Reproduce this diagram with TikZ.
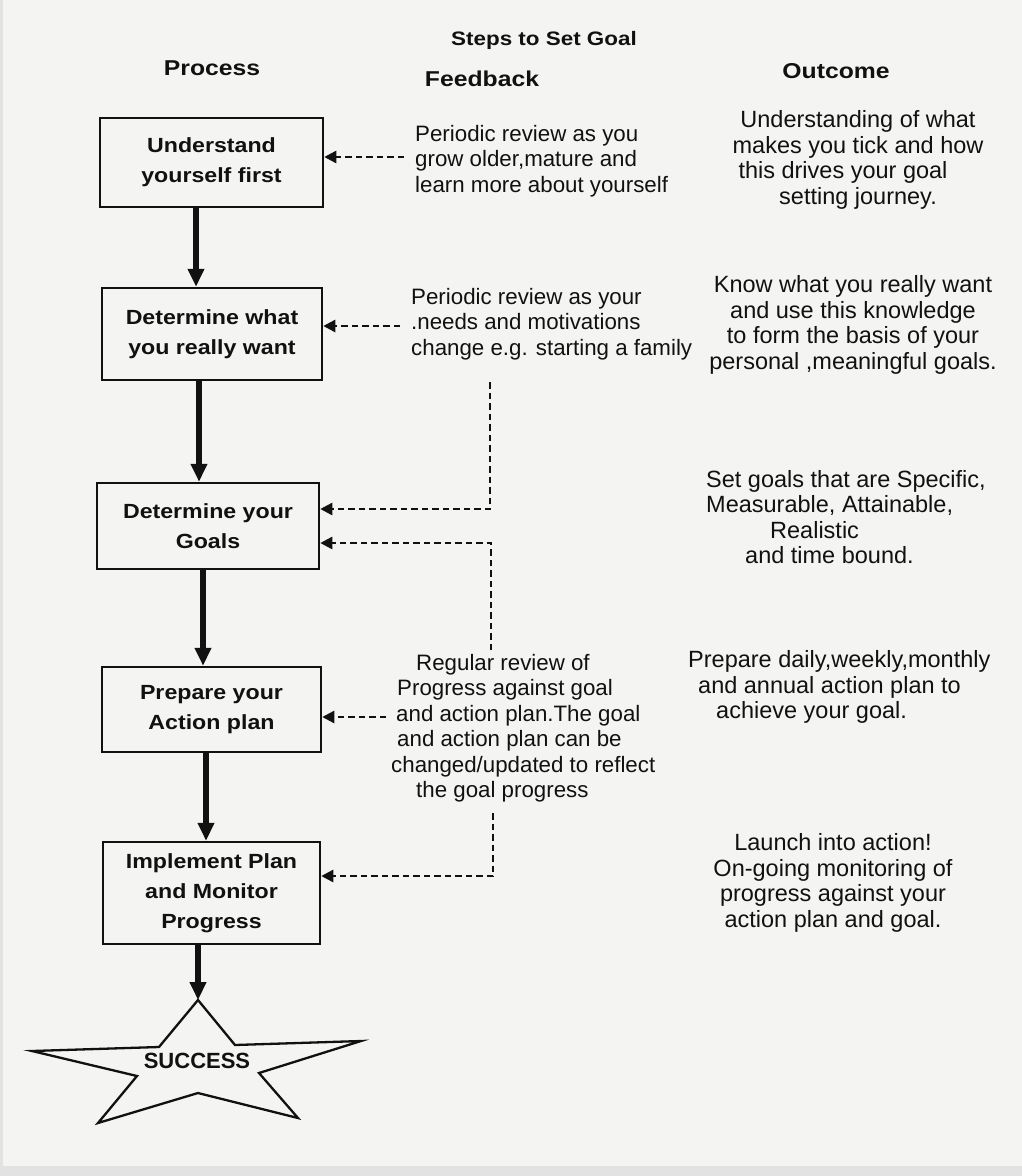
\documentclass[tikz,border=0pt]{standalone}
\usepackage{fontspec}
\setmainfont{Liberation Sans}
\newfontfamily\wideb[FakeStretch=1.13]{Liberation Sans}
\newfontfamily\wideh[FakeStretch=1.15]{Liberation Sans}
\usetikzlibrary{arrows.meta}
\definecolor{paper}{HTML}{F4F4F2}
\definecolor{strip}{HTML}{E2E2E2}
\definecolor{ink}{HTML}{111111}
\begin{document}
\begin{tikzpicture}[x=1pt,y=-1pt,
  hdr/.style={inner sep=0pt, text=ink, font=\wideh\bfseries\fontsize{21.5}{26}\selectfont},
  box/.style={draw=ink, line width=2.5pt, align=center, inner sep=0pt, text=ink,
    font=\wideb\bfseries\fontsize{20.5}{30}\selectfont},
  fbtext/.style={inner sep=0pt, align=left, text=ink, font=\fontsize{22.3}{25.5}\selectfont},
  outtext/.style={inner sep=0pt, text=ink, font=\fontsize{23.5}{25.5}\selectfont},
  flow/.style={draw=ink, line width=5.5pt, -{Triangle[length=18pt,width=16pt]}},
  fb/.style={draw=ink, line width=2.5pt, dash pattern=on 6.5pt off 4pt, -{Triangle[length=12pt,width=12pt]}},
  starline/.style={draw=ink, line width=2.3pt, line join=miter},
]
\useasboundingbox (0,0) rectangle (1022,1176);
\fill[paper] (0,0) rectangle (1022,1176);
\fill[strip] (0,1166) rectangle (1022,1176);
\fill[strip] (0,0) rectangle (3,1166);

% headers
\node[hdr, font=\wideh\bfseries\fontsize{19.5}{24}\selectfont] (title) at (544,40) {Steps to Set Goal};
\node[hdr] (hproc) at (212,68) {Process};
\node[hdr] (hfb) at (482,79) {Feedback};
\node[hdr] (hout) at (836,71) {Outcome};

% process boxes
\node[box, minimum width=223pt, minimum height=89pt] (b1) at (211.5,162.5) {Understand\\yourself first};
\node[box, minimum width=220pt, minimum height=92pt] (b2) at (212,334) {Determine what\\you really want};
\node[box, minimum width=222pt, minimum height=86pt] (b3) at (208,526) {Determine your\\Goals};
\node[box, minimum width=219pt, minimum height=85pt] (b4) at (211.5,709.5) {Prepare your\\Action plan};
\node[box, minimum width=217pt, minimum height=102pt] (b5) at (211.5,893) {Implement Plan\\and Monitor\\Progress};

% star
\coordinate (startop) at (198,1000);
\draw[starline] (startop) -- (235,1045) -- (361,1041) -- (259,1073) -- (298,1118)
  -- (198,1093) -- (98,1123) -- (137,1076) -- (32,1051) -- (159,1047) -- cycle;
\node[inner sep=0pt, text=ink, font=\bfseries\fontsize{22}{26}\selectfont] (succ) at (197,1061) {SUCCESS};

% flow arrows
\coordinate (a1) at ([xshift=-15.5pt]b1.south);
\coordinate (a2) at ([xshift=-13pt]b2.south);
\coordinate (a3) at ([xshift=-5pt]b3.south);
\coordinate (a4) at ([xshift=-5.5pt]b4.south);
\coordinate (a5) at ([xshift=-13.5pt]b5.south);
\draw[flow] (a1) -- (a1 |- b2.north);
\draw[flow] (a2) -- (a2 |- b3.north);
\draw[flow] (a3) -- (a3 |- b4.north);
\draw[flow] (a4) -- (a4 |- b5.north);
\draw[flow] (a5) -- (startop);

% feedback texts
\node[fbtext, anchor=west] (f1) at (415,161) {Periodic review as you\\grow older,mature and\\learn more about yourself};
\node[fbtext, anchor=west] (f2) at (411,324) {Periodic review as your\\.needs and motivations\\change e.g. starting a family};
\node[fbtext, anchor=west] (f4) at (391,728) {\hspace*{25pt}Regular review of\\\hspace*{6pt}Progress against goal\\\hspace*{5pt}and action plan.The goal\\\hspace*{6pt}and action plan can be\\changed/updated to reflect\\\hspace*{25pt}the goal progress};

% feedback arrows
\coordinate (t1) at ([shift={(-11pt,4pt)}]f1.west);
\draw[fb] (t1) -- (t1 -| b1.east);
\coordinate (t2) at ([shift={(-11pt,-2pt)}]f2.west);
\draw[fb] (t2) -- (t2 -| b2.east);
\coordinate (c3) at (490,382);
\draw[fb] (c3) |- ([yshift=17pt]b3.east);
\coordinate (c4) at (491,650);
\draw[fb] (c4) |- ([yshift=-17pt]b3.east);
\coordinate (t4) at ([shift={(-5pt,11pt)}]f4.west);
\draw[fb] (t4) -- (t4 -| b4.east);
\coordinate (c5) at (493,813);
\draw[fb] (c5) |- ([yshift=17pt]b5.east);

% outcome texts
\node[outtext, align=center] (o1) at (858,160) {Understanding of what\\makes you tick and how\\this drives your goal\hspace*{30pt}\mbox{}\\setting journey.};
\node[outtext, align=center] (o2) at (853,325) {Know what you really want\\and use this knowledge\\to form the basis of your\\personal ,meaningful goals.};
\node[outtext, align=left, anchor=west] (o3) at (706,517) {Set goals that are Specific,\\Measurable, Attainable,\\\hspace*{64pt}Realistic\\\hspace*{39pt}and time bound.};
\node[outtext, align=left, anchor=west] (o4) at (688,687) {Prepare daily,weekly,monthly\\\hspace*{10pt}and annual action plan to\\\hspace*{28pt}achieve your goal.};
\node[outtext, align=center] (o5) at (833,883) {Launch into action!\\On-going monitoring of\\progress against your\\action plan and goal.};
\end{tikzpicture}
\end{document}
